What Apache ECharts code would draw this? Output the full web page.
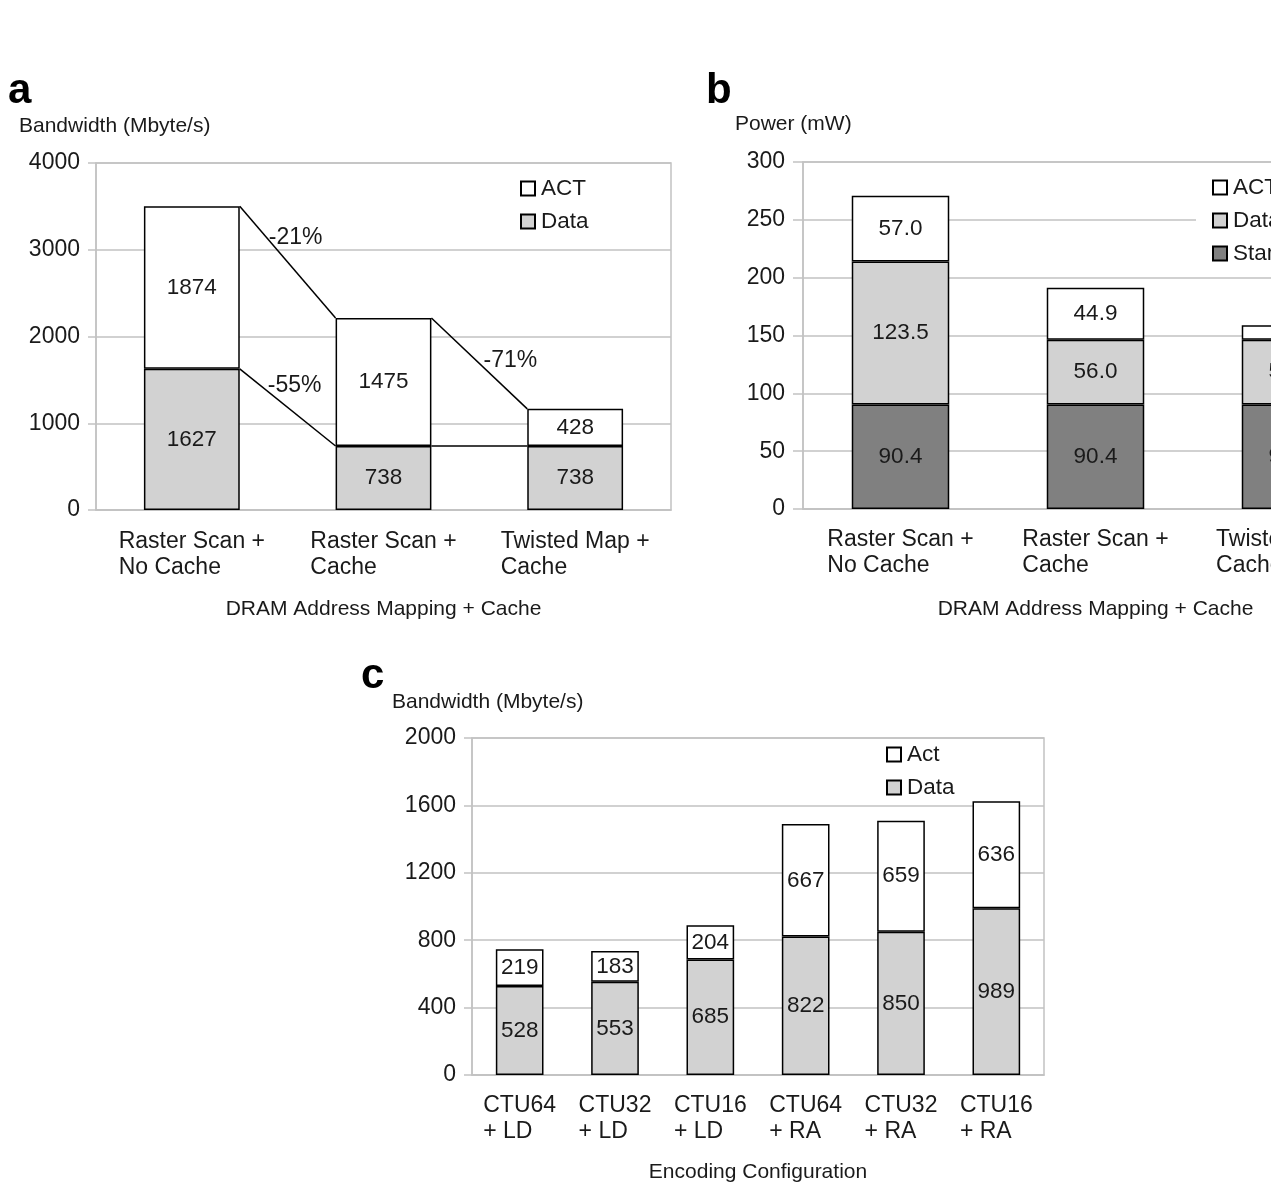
<!DOCTYPE html>
<html>
<head>
<meta charset="utf-8">
<script src="https://cdn.jsdelivr.net/npm/echarts@6/dist/echarts.min.js"></script>
<style>
html, body { margin: 0; padding: 0; background: #fff; overflow: hidden; }
#chart { width: 1271px; height: 1185px; }
</style>
</head>
<body>
<div id="chart"></div>
<script>
// panel a: bandwidth per DRAM address mapping
const aCategories = ['Raster Scan +\nNo Cache', 'Raster Scan +\nCache', 'Twisted Map +\nCache'];
const aData = [1627, 738, 738];
const aAct = [1874, 1475, 428];
const aChangeLabels = ['-21%', '-55%', '-71%'];

// panel b: power (third bar is cut by the page edge)
const bCategories = ['Raster Scan +\nNo Cache', 'Raster Scan +\nCache', 'Twisted Map +\nCache'];
const bStandby = [90.4, 90.4, 90.4];
const bData = [123.5, 56.0, 56.0];
const bAct = [57.0, 44.9, 12.5];

// panel c: bandwidth per encoding configuration
const cCategories = ['CTU64\n+ LD', 'CTU32\n+ LD', 'CTU16\n+ LD', 'CTU64\n+ RA', 'CTU32\n+ RA', 'CTU16\n+ RA'];
const cData = [528, 553, 685, 822, 850, 989];
const cAct = [219, 183, 204, 667, 659, 636];

const FONT = '"Liberation Sans", Arial, sans-serif';
const TEXT = '#1a1a1a';
const GRID = '#c2c2c2';
const WHITE = '#ffffff';
const LIGHT = '#d2d2d2';
const DARK = '#808080';

const measureCtx = document.createElement('canvas').getContext('2d');
const textWidth = (s, size) => {
    measureCtx.font = size + 'px "Liberation Sans"';
    return measureCtx.measureText(s).width;
};

// category axis, lines of each label left-aligned inside a centred block
const catAxis = (gridIndex, cats, name, margin, nameGap) => {
    const rich = {};
    cats.forEach((c, i) => {
        rich['c' + i] = {
            width: Math.max(...c.split('\n').map(l => textWidth(l, 23))),
            align: 'left', fontSize: 23, lineHeight: 26, color: TEXT, fontFamily: FONT
        };
    });
    return {
        type: 'category', gridIndex, data: cats,
        axisLine: { lineStyle: { color: GRID, width: 1.5 } },
        axisTick: { length: 8, lineStyle: { color: GRID, width: 1.5 } },
        axisLabel: {
            margin,
            formatter: (v, i) => v.split('\n').map(l => '{c' + i + '|' + l + '}').join('\n'),
            rich
        },
        name, nameLocation: 'middle', nameGap,
        nameTextStyle: { fontSize: 21, color: TEXT, fontFamily: FONT }
    };
};

const valAxis = (gridIndex, max, interval, margin, tick) => ({
    type: 'value', gridIndex, min: 0, max, interval,
    axisLine: { show: true, lineStyle: { color: GRID, width: 1.5 } },
    axisTick: { show: true, length: tick, lineStyle: { color: GRID, width: 1.5 } },
    splitLine: { lineStyle: { color: GRID, width: 1.5 } },
    axisLabel: { margin, fontSize: 23, color: TEXT, fontFamily: FONT, formatter: v => String(v) }
});

const bar = (name, axisIndex, stack, data, color, fmt) => ({
    type: 'bar', name, xAxisIndex: axisIndex, yAxisIndex: axisIndex, stack, data,
    barWidth: '50%',
    itemStyle: { color, borderColor: '#000', borderWidth: 1.5 },
    label: {
        show: true, position: 'inside', color: TEXT, fontSize: 22.5, fontFamily: FONT,
        textBorderWidth: 0, formatter: fmt
    },
    emphasis: { disabled: true }
});

// power values with one decimal, too-thin segments left unlabelled
const powerLabel = p => (p.value < 20 ? '' : p.value.toFixed(1));

const legend = (data, left, top, extra) => Object.assign({
    data, left, top, orient: 'vertical', icon: 'rect',
    itemWidth: 14, itemHeight: 14, itemGap: 10, padding: 0,
    selectedMode: false,
    textStyle: { fontSize: 22.5, color: TEXT, fontFamily: FONT, padding: [0, 0, 0, 1] }
}, extra || {});

const title = (text, left, top, size, bold) => ({
    text, left, top, padding: 0,
    textStyle: { fontSize: size, fontWeight: bold ? 'bold' : 'normal', color: bold ? '#000' : TEXT, fontFamily: FONT }
});

// connector lines between bars of panel a (ACT top and Data top)
const aTotal = aData.map((d, i) => d + aAct[i]);
const aLinks = [
    { level: aTotal, from: 0, label: aChangeLabels[0], offset: [8, -24] },
    { level: aData, from: 0, label: aChangeLabels[1], offset: [7, -22] },
    { level: aTotal, from: 1, label: aChangeLabels[2], offset: [31, -3] },
    { level: aData, from: 1, label: null, offset: [0, 0] }
];
const linkSeries = aLinks.map(l => ({
    type: 'line', xAxisIndex: 3, yAxisIndex: 0, symbol: 'none', silent: true,
    lineStyle: { color: '#000', width: 1.5 },
    data: [[l.from + 0.75, l.level[l.from]], [l.from + 1.25, l.level[l.from + 1]]]
}));
const linkLabels = {
    type: 'scatter', xAxisIndex: 3, yAxisIndex: 0, symbolSize: 0, silent: true,
    itemStyle: { opacity: 1 },
    data: aLinks.filter(l => l.label).map(l => ({
        name: l.label,
        value: [l.from + 1, (l.level[l.from] + l.level[l.from + 1]) / 2],
        label: { offset: l.offset }
    })),
    label: {
        show: true, position: 'inside', formatter: p => p.name,
        fontSize: 23, color: TEXT, fontFamily: FONT, textBorderWidth: 0
    }
};

const gridBox = { show: true, borderColor: GRID, borderWidth: 1.5, outerBoundsMode: 'none', containLabel: false };

const myChart = echarts.init(document.getElementById('chart'));
myChart.setOption({
    animation: false,
    backgroundColor: '#fff',
    title: [
        title('a', 8, 70, 42, true),
        title('Bandwidth (Mbyte/s)', 19, 116, 21),
        title('b', 706, 70, 42, true),
        title('Power (mW)', 735, 114, 21),
        title('c', 361, 655, 42, true),
        title('Bandwidth (Mbyte/s)', 392, 692, 21)
    ],
    grid: [
        Object.assign({ left: 96, top: 163, width: 575, height: 347 }, gridBox),
        Object.assign({ left: 803, top: 162, width: 585, height: 347 }, gridBox),
        Object.assign({ left: 472, top: 738, width: 572, height: 337 }, gridBox)
    ],
    xAxis: [
        catAxis(0, aCategories, 'DRAM Address Mapping + Cache', 19, 89),
        catAxis(1, bCategories, 'DRAM Address Mapping + Cache', 18, 90),
        catAxis(2, cCategories, 'Encoding Configuration', 18, 87),
        { type: 'value', gridIndex: 0, min: 0, max: 3, show: false }
    ],
    yAxis: [
        valAxis(0, 4000, 1000, 16, 8),
        valAxis(1, 300, 50, 18, 10),
        valAxis(2, 2000, 400, 16, 8)
    ],
    legend: [
        legend(['ACT', 'Data'], 520, 177),
        legend(['ACT', 'Data', 'Standby'], 1196, 172, { padding: [4, 8, 4, 16], backgroundColor: '#fff', itemGap: 10 }),
        legend(['Act', 'Data'], 886, 743)
    ],
    series: [
        bar('Data', 0, 'a', aData, LIGHT),
        bar('ACT', 0, 'a', aAct, WHITE),
        bar('Standby', 1, 'b', bStandby, DARK, powerLabel),
        bar('Data', 1, 'b', bData, LIGHT, powerLabel),
        bar('ACT', 1, 'b', bAct, WHITE, powerLabel),
        bar('Data', 2, 'c', cData, LIGHT),
        bar('Act', 2, 'c', cAct, WHITE),
        ...linkSeries,
        linkLabels
    ]
});
window.addEventListener('resize', () => myChart.resize());
</script>
</body>
</html>
